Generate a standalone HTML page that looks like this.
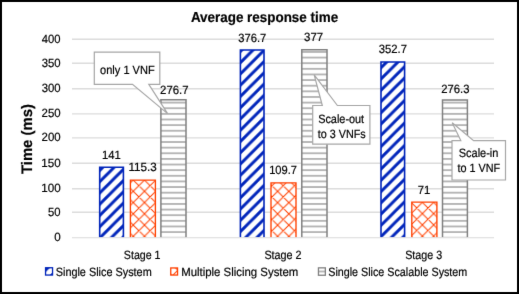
<!DOCTYPE html>
<html><head><meta charset="utf-8"><title>Average response time</title>
<style>html,body{margin:0;padding:0;background:#fff;}svg{display:block;}</style>
</head><body>
<svg width="519" height="294" viewBox="0 0 519 294" text-rendering="geometricPrecision">
<defs>
<pattern id="pb0" patternUnits="userSpaceOnUse" width="11.26" height="11.26" x="11.20" y="0"><rect width="11.26" height="11.26" fill="#fff"/><path d="M-11.26,11.26 L11.26,-11.26 M0,22.52 L22.52,0 M-11.26,22.52 L22.52,-11.26" stroke="#0024BA" stroke-width="2.9"/></pattern>
<pattern id="pb1" patternUnits="userSpaceOnUse" width="11.26" height="11.26" x="10.30" y="0"><rect width="11.26" height="11.26" fill="#fff"/><path d="M-11.26,11.26 L11.26,-11.26 M0,22.52 L22.52,0 M-11.26,22.52 L22.52,-11.26" stroke="#0024BA" stroke-width="2.9"/></pattern>
<pattern id="pb2" patternUnits="userSpaceOnUse" width="11.26" height="11.26" x="9.60" y="0"><rect width="11.26" height="11.26" fill="#fff"/><path d="M-11.26,11.26 L11.26,-11.26 M0,22.52 L22.52,0 M-11.26,22.52 L22.52,-11.26" stroke="#0024BA" stroke-width="2.9"/></pattern>
<pattern id="pbl" patternUnits="userSpaceOnUse" width="11.26" height="11.26" x="0.40" y="0"><rect width="11.26" height="11.26" fill="#fff"/><path d="M-11.26,11.26 L11.26,-11.26 M0,22.52 L22.52,0 M-11.26,22.52 L22.52,-11.26" stroke="#0024BA" stroke-width="2.9"/></pattern>
<pattern id="po0" patternUnits="userSpaceOnUse" width="11.26" height="11.26" x="9.36" y="-0.15"><rect width="11.26" height="11.26" fill="#fff"/><path d="M-11.26,11.26 L11.26,-11.26 M0,22.52 L22.52,0 M-11.26,22.52 L22.52,-11.26 M-11.26,0 L11.26,22.52 M0,-11.26 L22.52,11.26 M-11.26,-11.26 L22.52,22.52" stroke="#FF4000" stroke-width="1.05"/></pattern>
<pattern id="po1" patternUnits="userSpaceOnUse" width="11.26" height="11.26" x="7.36" y="-0.08"><rect width="11.26" height="11.26" fill="#fff"/><path d="M-11.26,11.26 L11.26,-11.26 M0,22.52 L22.52,0 M-11.26,22.52 L22.52,-11.26 M-11.26,0 L11.26,22.52 M0,-11.26 L22.52,11.26 M-11.26,-11.26 L22.52,22.52" stroke="#FF4000" stroke-width="1.05"/></pattern>
<pattern id="po2" patternUnits="userSpaceOnUse" width="11.26" height="11.26" x="5.76" y="-0.33"><rect width="11.26" height="11.26" fill="#fff"/><path d="M-11.26,11.26 L11.26,-11.26 M0,22.52 L22.52,0 M-11.26,22.52 L22.52,-11.26 M-11.26,0 L11.26,22.52 M0,-11.26 L22.52,11.26 M-11.26,-11.26 L22.52,22.52" stroke="#FF4000" stroke-width="1.05"/></pattern>
<pattern id="pol" patternUnits="userSpaceOnUse" width="11.26" height="11.26" x="9.00" y="0.00"><rect width="11.26" height="11.26" fill="#fff"/><path d="M-11.26,11.26 L11.26,-11.26 M0,22.52 L22.52,0 M-11.26,22.52 L22.52,-11.26 M-11.26,0 L11.26,22.52 M0,-11.26 L22.52,11.26 M-11.26,-11.26 L22.52,22.52" stroke="#FF4000" stroke-width="1.05"/></pattern>
<pattern id="pg" patternUnits="userSpaceOnUse" width="20" height="5.63" x="0" y="-1.555"><rect width="20" height="5.63" fill="#fff"/><rect y="2.165" width="20" height="1.3" fill="#959595"/></pattern>
<filter id="bl" x="0" y="0" width="519" height="294" filterUnits="userSpaceOnUse" color-interpolation-filters="sRGB"><feConvolveMatrix order="3" kernelMatrix="0.00524 0.06192 0.00524 0.06192 0.73137 0.06192 0.00524 0.06192 0.00524" divisor="1" edgeMode="duplicate"/></filter>
</defs>
<rect x="0" y="0" width="519" height="294" fill="#fff"/>
<g filter="url(#bl)">
<line x1="72" x2="494" y1="212.30" y2="212.30" stroke="#DCDCDC" stroke-width="1.4"/>
<line x1="72" x2="494" y1="188.70" y2="188.70" stroke="#DCDCDC" stroke-width="1.4"/>
<line x1="72" x2="494" y1="163.30" y2="163.30" stroke="#DCDCDC" stroke-width="1.4"/>
<line x1="72" x2="494" y1="137.90" y2="137.90" stroke="#DCDCDC" stroke-width="1.4"/>
<line x1="72" x2="494" y1="113.90" y2="113.90" stroke="#DCDCDC" stroke-width="1.4"/>
<line x1="72" x2="494" y1="88.70" y2="88.70" stroke="#DCDCDC" stroke-width="1.4"/>
<line x1="72" x2="494" y1="63.20" y2="63.20" stroke="#DCDCDC" stroke-width="1.4"/>
<line x1="72" x2="494" y1="39.20" y2="39.20" stroke="#DCDCDC" stroke-width="1.4"/>
<rect x="99.7" y="167.32" width="23.70" height="69.88" fill="url(#pb0)"/>
<path d="M99.7,237.2 V167.32 H123.4 V237.2" fill="none" stroke="#0024BA" stroke-width="1.6" stroke-linejoin="miter"/>
<rect x="240.4" y="50.01" width="23.60" height="187.19" fill="url(#pb1)"/>
<path d="M240.4,237.2 V50.01 H264.0 V237.2" fill="none" stroke="#0024BA" stroke-width="1.6" stroke-linejoin="miter"/>
<rect x="381.0" y="61.95" width="23.60" height="175.25" fill="url(#pb2)"/>
<path d="M381.0,237.2 V61.95 H404.6 V237.2" fill="none" stroke="#0024BA" stroke-width="1.6" stroke-linejoin="miter"/>
<rect x="130.4" y="180.11" width="25.00" height="57.09" fill="url(#po0)"/>
<path d="M130.4,237.2 V180.11 H155.4 V237.2" fill="none" stroke="#FF4000" stroke-width="1.35" stroke-linejoin="miter"/>
<rect x="271.0" y="182.89" width="25.00" height="54.31" fill="url(#po1)"/>
<path d="M271.0,237.2 V182.89 H296.0 V237.2" fill="none" stroke="#FF4000" stroke-width="1.35" stroke-linejoin="miter"/>
<rect x="411.8" y="202.15" width="25.10" height="35.05" fill="url(#po2)"/>
<path d="M411.8,237.2 V202.15 H436.9 V237.2" fill="none" stroke="#FF4000" stroke-width="1.35" stroke-linejoin="miter"/>
<rect x="160.9" y="99.78" width="25.10" height="137.42" fill="url(#pg)"/>
<path d="M160.9,237.2 V99.78 H186.0 V237.2" fill="none" stroke="#808080" stroke-width="1.5" stroke-linejoin="miter"/>
<rect x="301.8" y="49.86" width="25.20" height="187.34" fill="url(#pg)"/>
<path d="M301.8,237.2 V49.86 H327.0 V237.2" fill="none" stroke="#808080" stroke-width="1.5" stroke-linejoin="miter"/>
<rect x="442.5" y="99.98" width="24.90" height="137.22" fill="url(#pg)"/>
<path d="M442.5,237.2 V99.98 H467.4 V237.2" fill="none" stroke="#808080" stroke-width="1.5" stroke-linejoin="miter"/>
<line x1="72" x2="494" y1="237.75" y2="237.75" stroke="#D9D9D9" stroke-width="1.2"/>
<polygon points="94.3,52.2 159.8,52.2 159.8,84.4 148.8,84.4 167.6,113.6 132.5,84.4 94.3,84.4" fill="#fff" stroke="#A6A6A6" stroke-width="1.2" stroke-linejoin="miter"/>
<polygon points="312.7,105.5 322.3,105.5 314.2,74.9 337.4,105.5 369.9,105.5 369.9,144.2 312.7,144.2" fill="#fff" stroke="#A6A6A6" stroke-width="1.2" stroke-linejoin="miter"/>
<polygon points="452.0,140.6 460.8,140.6 452.2,122.8 473.6,140.6 505.5,140.6 505.5,180.0 452.0,180.0" fill="#fff" stroke="#A6A6A6" stroke-width="1.2" stroke-linejoin="miter"/>
<rect x="45.55" y="267.75" width="7.00" height="7.30" fill="url(#pbl)" stroke="#0024BA" stroke-width="1.3"/>
<rect x="170.75" y="267.95" width="6.80" height="7.10" fill="url(#pol)" stroke="#FF4000" stroke-width="1.3"/>
<rect x="318.45" y="267.85" width="6.90" height="7.40" fill="url(#pg)" stroke="#808080" stroke-width="1.3"/>
<text x="190.89" y="21.60" font-family="'Liberation Sans', Arial, sans-serif" font-size="14.4" font-weight="bold" fill="#000000" stroke="#000" stroke-width="0.2" textLength="147.25" lengthAdjust="spacingAndGlyphs">Average response time</text>
<text transform="translate(32.40,174.07) rotate(-90)" x="0" y="0" font-family="'Liberation Sans', Arial, sans-serif" font-size="15.2" font-weight="bold" fill="#000000" stroke="#000" stroke-width="0.2" textLength="70.01" lengthAdjust="spacingAndGlyphs">Time (ms)</text>
<text x="102.06" y="158.60" font-family="'Liberation Sans', Arial, sans-serif" font-size="12" fill="#000000" stroke="#000" stroke-width="0.2" textLength="18.77" lengthAdjust="spacingAndGlyphs">141</text>
<text x="128.43" y="171.40" font-family="'Liberation Sans', Arial, sans-serif" font-size="12" fill="#000000" stroke="#000" stroke-width="0.2" textLength="28.36" lengthAdjust="spacingAndGlyphs">115.3</text>
<text x="160.05" y="94.10" font-family="'Liberation Sans', Arial, sans-serif" font-size="12" fill="#000000" stroke="#000" stroke-width="0.2" textLength="28.51" lengthAdjust="spacingAndGlyphs">276.7</text>
<text x="238.19" y="41.90" font-family="'Liberation Sans', Arial, sans-serif" font-size="12" fill="#000000" stroke="#000" stroke-width="0.2" textLength="28.05" lengthAdjust="spacingAndGlyphs">376.7</text>
<text x="269.17" y="174.00" font-family="'Liberation Sans', Arial, sans-serif" font-size="12" fill="#000000" stroke="#000" stroke-width="0.2" textLength="27.87" lengthAdjust="spacingAndGlyphs">109.7</text>
<text x="304.08" y="40.60" font-family="'Liberation Sans', Arial, sans-serif" font-size="12" fill="#000000" stroke="#000" stroke-width="0.2" textLength="19.18" lengthAdjust="spacingAndGlyphs">377</text>
<text x="378.79" y="52.50" font-family="'Liberation Sans', Arial, sans-serif" font-size="12" fill="#000000" stroke="#000" stroke-width="0.2" textLength="28.26" lengthAdjust="spacingAndGlyphs">352.7</text>
<text x="417.84" y="193.90" font-family="'Liberation Sans', Arial, sans-serif" font-size="12" fill="#000000" stroke="#000" stroke-width="0.2" textLength="12.59" lengthAdjust="spacingAndGlyphs">71</text>
<text x="441.25" y="92.60" font-family="'Liberation Sans', Arial, sans-serif" font-size="12" fill="#000000" stroke="#000" stroke-width="0.2" textLength="28.22" lengthAdjust="spacingAndGlyphs">276.3</text>
<text x="123.84" y="258.50" font-family="'Liberation Sans', Arial, sans-serif" font-size="12" fill="#000000" stroke="#000" stroke-width="0.2" textLength="36.66" lengthAdjust="spacingAndGlyphs">Stage 1</text>
<text x="264.43" y="258.50" font-family="'Liberation Sans', Arial, sans-serif" font-size="12" fill="#000000" stroke="#000" stroke-width="0.2" textLength="37.19" lengthAdjust="spacingAndGlyphs">Stage 2</text>
<text x="405.23" y="258.50" font-family="'Liberation Sans', Arial, sans-serif" font-size="12" fill="#000000" stroke="#000" stroke-width="0.2" textLength="36.92" lengthAdjust="spacingAndGlyphs">Stage 3</text>
<text x="55.73" y="275.60" font-family="'Liberation Sans', Arial, sans-serif" font-size="12" fill="#000000" stroke="#000" stroke-width="0.2" textLength="95.97" lengthAdjust="spacingAndGlyphs">Single Slice System</text>
<text x="181.19" y="275.60" font-family="'Liberation Sans', Arial, sans-serif" font-size="12" fill="#000000" stroke="#000" stroke-width="0.2" textLength="117.15" lengthAdjust="spacingAndGlyphs">Multiple Slicing System</text>
<text x="328.23" y="275.60" font-family="'Liberation Sans', Arial, sans-serif" font-size="12" fill="#000000" stroke="#000" stroke-width="0.2" textLength="139.06" lengthAdjust="spacingAndGlyphs">Single Slice Scalable System</text>
<text x="100.06" y="74.00" font-family="'Liberation Sans', Arial, sans-serif" font-size="12" fill="#000000" stroke="#000" stroke-width="0.2" textLength="54.67" lengthAdjust="spacingAndGlyphs">only 1 VNF</text>
<text x="318.13" y="123.20" font-family="'Liberation Sans', Arial, sans-serif" font-size="12" fill="#000000" stroke="#000" stroke-width="0.2" textLength="46.03" lengthAdjust="spacingAndGlyphs">Scale-out</text>
<text x="317.76" y="138.10" font-family="'Liberation Sans', Arial, sans-serif" font-size="12" fill="#000000" stroke="#000" stroke-width="0.2" textLength="48.01" lengthAdjust="spacingAndGlyphs">to 3 VNFs</text>
<text x="458.72" y="157.20" font-family="'Liberation Sans', Arial, sans-serif" font-size="12" fill="#000000" stroke="#000" stroke-width="0.2" textLength="39.67" lengthAdjust="spacingAndGlyphs">Scale-in</text>
<text x="457.46" y="172.20" font-family="'Liberation Sans', Arial, sans-serif" font-size="12" fill="#000000" stroke="#000" stroke-width="0.2" textLength="42.76" lengthAdjust="spacingAndGlyphs">to 1 VNF</text>
<text x="54.17" y="241.45" font-family="'Liberation Sans', Arial, sans-serif" font-size="12" fill="#000000" stroke="#000" stroke-width="0.2" textLength="6.47" lengthAdjust="spacingAndGlyphs">0</text>
<text x="48.07" y="215.85" font-family="'Liberation Sans', Arial, sans-serif" font-size="12" fill="#000000" stroke="#000" stroke-width="0.2" textLength="12.55" lengthAdjust="spacingAndGlyphs">50</text>
<text x="41.23" y="192.25" font-family="'Liberation Sans', Arial, sans-serif" font-size="12" fill="#000000" stroke="#000" stroke-width="0.2" textLength="19.40" lengthAdjust="spacingAndGlyphs">100</text>
<text x="41.23" y="166.85" font-family="'Liberation Sans', Arial, sans-serif" font-size="12" fill="#000000" stroke="#000" stroke-width="0.2" textLength="19.40" lengthAdjust="spacingAndGlyphs">150</text>
<text x="41.55" y="141.45" font-family="'Liberation Sans', Arial, sans-serif" font-size="12" fill="#000000" stroke="#000" stroke-width="0.2" textLength="19.08" lengthAdjust="spacingAndGlyphs">200</text>
<text x="41.55" y="117.45" font-family="'Liberation Sans', Arial, sans-serif" font-size="12" fill="#000000" stroke="#000" stroke-width="0.2" textLength="19.08" lengthAdjust="spacingAndGlyphs">250</text>
<text x="41.69" y="92.25" font-family="'Liberation Sans', Arial, sans-serif" font-size="12" fill="#000000" stroke="#000" stroke-width="0.2" textLength="18.94" lengthAdjust="spacingAndGlyphs">300</text>
<text x="41.69" y="66.75" font-family="'Liberation Sans', Arial, sans-serif" font-size="12" fill="#000000" stroke="#000" stroke-width="0.2" textLength="18.94" lengthAdjust="spacingAndGlyphs">350</text>
<text x="41.86" y="42.75" font-family="'Liberation Sans', Arial, sans-serif" font-size="12" fill="#000000" stroke="#000" stroke-width="0.2" textLength="18.76" lengthAdjust="spacingAndGlyphs">400</text>
<rect x="1" y="1" width="517" height="292" fill="none" stroke="#000" stroke-width="2"/>
</g>
</svg>
</body></html>
